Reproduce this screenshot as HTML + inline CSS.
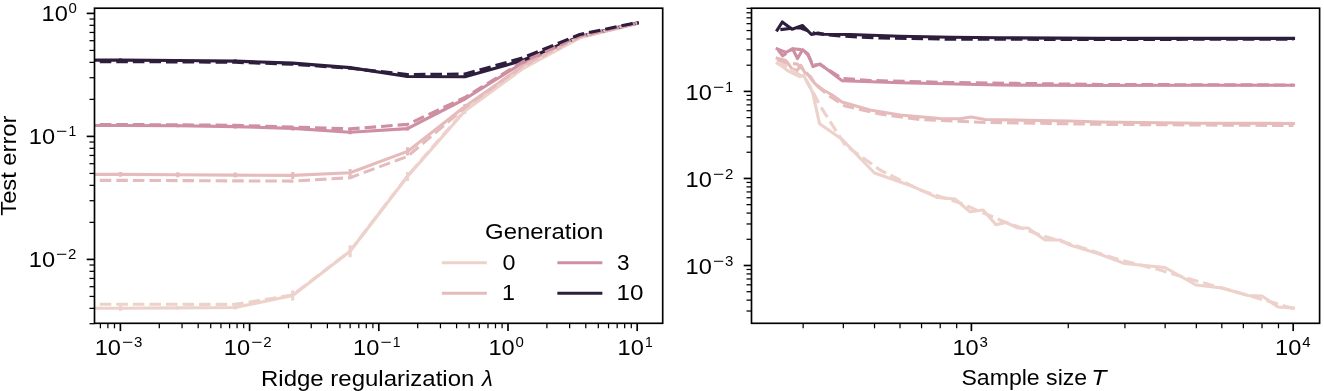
<!DOCTYPE html><html><head><meta charset="utf-8"><style>html,body{margin:0;padding:0;background:#fff;}svg{display:block;}</style></head><body><svg width="1324" height="391" viewBox="0 0 1324 391">
<defs>
<clipPath id="cl"><rect x="94.5" y="8.2" width="568.2" height="315.1"/></clipPath>
<clipPath id="cr"><rect x="751.5" y="8.2" width="568.0999999999999" height="315.1"/></clipPath>
</defs>
<rect width="1324" height="391" fill="#fff"/>
<path d="M89.5,308.3 L120.4,308.2 L177.8,307.9 L235.2,307.5 L292.7,295.5 L350.1,251.3 L407.5,176.5 L464.9,111.0 L522.4,69.0 L579.8,37.8 L637.2,23.5" fill="none" stroke="#edd1cb" stroke-width="3.125" stroke-linejoin="round" stroke-linecap="square" clip-path="url(#cl)"/>
<line x1="120.4" y1="305.7" x2="120.4" y2="310.7" stroke="#edd1cb" stroke-width="3.125" clip-path="url(#cl)"/>
<line x1="177.8" y1="306.4" x2="177.8" y2="309.4" stroke="#edd1cb" stroke-width="3.125" clip-path="url(#cl)"/>
<line x1="235.2" y1="305.5" x2="235.2" y2="309.5" stroke="#edd1cb" stroke-width="3.125" clip-path="url(#cl)"/>
<line x1="292.7" y1="290.5" x2="292.7" y2="300.5" stroke="#edd1cb" stroke-width="3.125" clip-path="url(#cl)"/>
<line x1="350.1" y1="245.3" x2="350.1" y2="257.3" stroke="#edd1cb" stroke-width="3.125" clip-path="url(#cl)"/>
<line x1="407.5" y1="172.0" x2="407.5" y2="181.0" stroke="#edd1cb" stroke-width="3.125" clip-path="url(#cl)"/>
<line x1="464.9" y1="108.0" x2="464.9" y2="114.0" stroke="#edd1cb" stroke-width="3.125" clip-path="url(#cl)"/>
<line x1="522.4" y1="68.0" x2="522.4" y2="70.0" stroke="#edd1cb" stroke-width="3.125" clip-path="url(#cl)"/>
<line x1="579.8" y1="36.8" x2="579.8" y2="38.8" stroke="#edd1cb" stroke-width="3.125" clip-path="url(#cl)"/>
<line x1="637.2" y1="22.5" x2="637.2" y2="24.5" stroke="#edd1cb" stroke-width="3.125" clip-path="url(#cl)"/>
<path d="M89.5,174.4 L120.4,174.4 L177.8,174.8 L235.2,175.1 L292.7,175.4 L350.1,172.8 L407.5,151.4 L464.9,106.5 L522.4,66.5 L579.8,37.3 L637.2,23.3" fill="none" stroke="#e5bcbb" stroke-width="3.125" stroke-linejoin="round" stroke-linecap="square" clip-path="url(#cl)"/>
<line x1="120.4" y1="172.1" x2="120.4" y2="176.7" stroke="#e5bcbb" stroke-width="3.125" clip-path="url(#cl)"/>
<line x1="177.8" y1="172.3" x2="177.8" y2="177.3" stroke="#e5bcbb" stroke-width="3.125" clip-path="url(#cl)"/>
<line x1="235.2" y1="172.6" x2="235.2" y2="177.6" stroke="#e5bcbb" stroke-width="3.125" clip-path="url(#cl)"/>
<line x1="292.7" y1="171.9" x2="292.7" y2="178.9" stroke="#e5bcbb" stroke-width="3.125" clip-path="url(#cl)"/>
<line x1="350.1" y1="169.0" x2="350.1" y2="176.6" stroke="#e5bcbb" stroke-width="3.125" clip-path="url(#cl)"/>
<line x1="407.5" y1="147.2" x2="407.5" y2="155.6" stroke="#e5bcbb" stroke-width="3.125" clip-path="url(#cl)"/>
<line x1="464.9" y1="104.0" x2="464.9" y2="109.0" stroke="#e5bcbb" stroke-width="3.125" clip-path="url(#cl)"/>
<line x1="522.4" y1="65.5" x2="522.4" y2="67.5" stroke="#e5bcbb" stroke-width="3.125" clip-path="url(#cl)"/>
<line x1="579.8" y1="36.3" x2="579.8" y2="38.3" stroke="#e5bcbb" stroke-width="3.125" clip-path="url(#cl)"/>
<line x1="637.2" y1="22.3" x2="637.2" y2="24.3" stroke="#e5bcbb" stroke-width="3.125" clip-path="url(#cl)"/>
<path d="M89.5,125.5 L120.4,125.5 L177.8,125.8 L235.2,126.6 L292.7,128.4 L350.1,132.2 L407.5,128.6 L464.9,99.0 L522.4,63.0 L579.8,36.3 L637.2,23.0" fill="none" stroke="#ce8fa2" stroke-width="3.125" stroke-linejoin="round" stroke-linecap="square" clip-path="url(#cl)"/>
<line x1="120.4" y1="124.0" x2="120.4" y2="127.0" stroke="#ce8fa2" stroke-width="3.125" clip-path="url(#cl)"/>
<line x1="177.8" y1="124.3" x2="177.8" y2="127.3" stroke="#ce8fa2" stroke-width="3.125" clip-path="url(#cl)"/>
<line x1="235.2" y1="124.6" x2="235.2" y2="128.6" stroke="#ce8fa2" stroke-width="3.125" clip-path="url(#cl)"/>
<line x1="292.7" y1="126.4" x2="292.7" y2="130.4" stroke="#ce8fa2" stroke-width="3.125" clip-path="url(#cl)"/>
<line x1="350.1" y1="130.2" x2="350.1" y2="134.2" stroke="#ce8fa2" stroke-width="3.125" clip-path="url(#cl)"/>
<line x1="407.5" y1="126.6" x2="407.5" y2="130.6" stroke="#ce8fa2" stroke-width="3.125" clip-path="url(#cl)"/>
<line x1="464.9" y1="98.0" x2="464.9" y2="100.0" stroke="#ce8fa2" stroke-width="3.125" clip-path="url(#cl)"/>
<line x1="522.4" y1="62.0" x2="522.4" y2="64.0" stroke="#ce8fa2" stroke-width="3.125" clip-path="url(#cl)"/>
<line x1="579.8" y1="35.3" x2="579.8" y2="37.3" stroke="#ce8fa2" stroke-width="3.125" clip-path="url(#cl)"/>
<line x1="637.2" y1="22.0" x2="637.2" y2="24.0" stroke="#ce8fa2" stroke-width="3.125" clip-path="url(#cl)"/>
<path d="M89.5,60.1 L120.4,60.1 L177.8,60.5 L235.2,61.1 L292.7,63.1 L350.1,67.6 L407.5,76.5 L464.9,76.8 L522.4,60.5 L579.8,36.5 L637.2,23.0" fill="none" stroke="#2d1e3e" stroke-width="3.125" stroke-linejoin="round" stroke-linecap="square" clip-path="url(#cl)"/>
<line x1="120.4" y1="58.6" x2="120.4" y2="61.6" stroke="#2d1e3e" stroke-width="3.125" clip-path="url(#cl)"/>
<line x1="177.8" y1="59.5" x2="177.8" y2="61.5" stroke="#2d1e3e" stroke-width="3.125" clip-path="url(#cl)"/>
<line x1="235.2" y1="59.6" x2="235.2" y2="62.6" stroke="#2d1e3e" stroke-width="3.125" clip-path="url(#cl)"/>
<line x1="292.7" y1="62.1" x2="292.7" y2="64.1" stroke="#2d1e3e" stroke-width="3.125" clip-path="url(#cl)"/>
<line x1="350.1" y1="66.6" x2="350.1" y2="68.6" stroke="#2d1e3e" stroke-width="3.125" clip-path="url(#cl)"/>
<line x1="407.5" y1="75.0" x2="407.5" y2="78.0" stroke="#2d1e3e" stroke-width="3.125" clip-path="url(#cl)"/>
<line x1="464.9" y1="75.8" x2="464.9" y2="77.8" stroke="#2d1e3e" stroke-width="3.125" clip-path="url(#cl)"/>
<line x1="522.4" y1="59.5" x2="522.4" y2="61.5" stroke="#2d1e3e" stroke-width="3.125" clip-path="url(#cl)"/>
<line x1="579.8" y1="35.5" x2="579.8" y2="37.5" stroke="#2d1e3e" stroke-width="3.125" clip-path="url(#cl)"/>
<line x1="637.2" y1="22.0" x2="637.2" y2="24.0" stroke="#2d1e3e" stroke-width="3.125" clip-path="url(#cl)"/>
<path d="M89.5,304.3 L120.4,304.3 L177.8,304.3 L235.2,304.4 L292.7,295.0 L350.1,251.0 L407.5,176.0 L464.9,110.0 L522.4,68.5 L579.8,37.3 L637.2,23.2" fill="none" stroke="#edd1cb" stroke-width="3.125" stroke-linejoin="round" stroke-linecap="butt" stroke-dasharray="11.56 5.0" stroke-dashoffset="6.32" clip-path="url(#cl)"/>
<path d="M89.5,180.4 L120.4,180.4 L177.8,180.6 L235.2,180.9 L292.7,181.1 L350.1,177.7 L407.5,156.4 L464.9,107.5 L522.4,66.0 L579.8,36.8 L637.2,23.0" fill="none" stroke="#e5bcbb" stroke-width="3.125" stroke-linejoin="round" stroke-linecap="butt" stroke-dasharray="11.56 5.0" stroke-dashoffset="6.32" clip-path="url(#cl)"/>
<path d="M89.5,124.6 L120.4,124.6 L177.8,124.8 L235.2,125.3 L292.7,127.1 L350.1,128.9 L407.5,124.4 L464.9,97.5 L522.4,62.0 L579.8,36.0 L637.2,22.8" fill="none" stroke="#ce8fa2" stroke-width="3.125" stroke-linejoin="round" stroke-linecap="butt" stroke-dasharray="11.56 5.0" stroke-dashoffset="6.32" clip-path="url(#cl)"/>
<path d="M89.5,61.6 L120.4,61.6 L177.8,61.9 L235.2,62.3 L292.7,64.2 L350.1,68.3 L407.5,74.5 L464.9,74.1 L522.4,58.0 L579.8,34.5 L637.2,22.5" fill="none" stroke="#2d1e3e" stroke-width="3.125" stroke-linejoin="round" stroke-linecap="butt" stroke-dasharray="11.56 5.0" stroke-dashoffset="6.32" clip-path="url(#cl)"/>
<path d="M777.2,63.3 L782.3,66.4 L787.4,70.5 L795.6,74.6 L799.7,76.6 L803.8,75.6 L807.9,83.8 L812.5,92.0 L819.6,123.8 L842.0,139.3 L874.5,173.0 L911.0,185.7 L937.0,197.4 L955.0,199.0 L970.0,211.8 L983.0,210.0 L996.0,224.6 L1006.0,222.5 L1018.0,228.0 L1028.0,228.0 L1045.0,240.0 L1060.0,240.0 L1070.0,245.0 L1100.0,254.3 L1124.6,263.5 L1165.0,267.5 L1196.0,285.0 L1222.0,288.0 L1248.0,295.5 L1262.0,296.0 L1278.0,307.0 L1293.5,308.0" fill="none" stroke="#edd1cb" stroke-width="3.125" stroke-linejoin="round" stroke-linecap="square" clip-path="url(#cr)"/>
<path d="M777.2,58.2 L785.4,60.2 L788.4,63.8 L792.0,68.9 L797.1,70.5 L800.7,65.4 L804.8,72.5 L810.4,76.6 L815.0,83.8 L823.2,90.0 L831.4,94.5 L842.0,102.0 L870.0,110.0 L900.0,115.0 L940.0,118.5 L960.0,118.8 L971.0,117.0 L985.0,119.5 L1040.0,120.5 L1070.0,121.0 L1100.0,122.0 L1200.0,123.2 L1293.5,123.5" fill="none" stroke="#e5bcbb" stroke-width="3.125" stroke-linejoin="round" stroke-linecap="square" clip-path="url(#cr)"/>
<path d="M777.2,48.9 L786.0,52.4 L792.6,48.8 L797.5,58.5 L802.6,49.7 L808.0,54.0 L813.0,66.6 L820.0,63.9 L842.2,80.7 L900.0,82.7 L1000.0,85.0 L1100.0,85.5 L1200.0,85.3 L1293.5,85.3" fill="none" stroke="#ce8fa2" stroke-width="3.125" stroke-linejoin="round" stroke-linecap="square" clip-path="url(#cr)"/>
<path d="M777.2,30.0 L782.3,22.0 L792.0,29.2 L802.6,25.6 L811.5,34.5 L818.0,33.0 L824.0,34.2 L850.0,34.5 L900.0,36.3 L952.0,37.2 L1000.0,37.8 L1100.0,38.4 L1200.0,38.4 L1293.5,38.4" fill="none" stroke="#2d1e3e" stroke-width="3.125" stroke-linejoin="round" stroke-linecap="square" clip-path="url(#cr)"/>
<path d="M777.7,60.0 L786.0,66.0 L795.0,72.0 L805.0,78.0 L812.0,90.0 L819.6,105.0 L845.0,145.0 L880.0,170.0 L920.0,190.0 L960.0,203.0 L1000.0,220.0 L1040.0,235.0 L1080.0,247.0 L1120.0,260.0 L1160.0,270.0 L1200.0,282.0 L1240.0,293.0 L1293.5,308.5" fill="none" stroke="#edd1cb" stroke-width="3.125" stroke-linejoin="round" stroke-linecap="butt" stroke-dasharray="11.56 5.0" stroke-dashoffset="0" clip-path="url(#cr)"/>
<path d="M777.2,59.0 L787.0,63.0 L797.0,64.0 L806.0,72.0 L815.0,84.0 L828.0,95.0 L845.0,106.0 L880.0,114.0 L920.0,119.5 L980.0,122.3 L1100.0,124.3 L1200.0,125.0 L1293.5,125.5" fill="none" stroke="#e5bcbb" stroke-width="3.125" stroke-linejoin="round" stroke-linecap="butt" stroke-dasharray="11.56 5.0" stroke-dashoffset="0" clip-path="url(#cr)"/>
<path d="M777.2,48.9 L782.7,55.8 L792.6,48.8 L802.6,49.7 L808.0,55.0 L813.0,65.0 L820.0,64.5 L842.0,78.5 L870.0,80.5 L950.0,82.5 L1100.0,84.5 L1293.5,85.0" fill="none" stroke="#ce8fa2" stroke-width="3.125" stroke-linejoin="round" stroke-linecap="butt" stroke-dasharray="11.56 5.0" stroke-dashoffset="15.06" clip-path="url(#cr)"/>
<path d="M777.2,30.0 L790.0,28.5 L800.0,27.8 L806.0,30.0 L815.0,33.5 L840.0,36.0 L880.0,38.0 L952.0,39.2 L1100.0,39.4 L1293.5,39.2" fill="none" stroke="#2d1e3e" stroke-width="3.125" stroke-linejoin="round" stroke-linecap="butt" stroke-dasharray="11.56 5.0" stroke-dashoffset="13.36" clip-path="url(#cr)"/>
<rect x="94.5" y="8.2" width="568.2" height="315.1" fill="none" stroke="#000" stroke-width="1.67" stroke-linejoin="miter"/>
<rect x="751.5" y="8.2" width="568.0999999999999" height="315.1" fill="none" stroke="#000" stroke-width="1.67" stroke-linejoin="miter"/>
<line x1="100.39" y1="323.3" x2="100.39" y2="328.3" stroke="#000" stroke-width="1.25"/>
<line x1="107.88" y1="323.3" x2="107.88" y2="328.3" stroke="#000" stroke-width="1.25"/>
<line x1="114.49" y1="323.3" x2="114.49" y2="328.3" stroke="#000" stroke-width="1.25"/>
<line x1="120.40" y1="323.3" x2="120.40" y2="331.1" stroke="#000" stroke-width="1.67"/>
<line x1="159.29" y1="323.3" x2="159.29" y2="328.3" stroke="#000" stroke-width="1.25"/>
<line x1="182.04" y1="323.3" x2="182.04" y2="328.3" stroke="#000" stroke-width="1.25"/>
<line x1="198.19" y1="323.3" x2="198.19" y2="328.3" stroke="#000" stroke-width="1.25"/>
<line x1="210.71" y1="323.3" x2="210.71" y2="328.3" stroke="#000" stroke-width="1.25"/>
<line x1="220.94" y1="323.3" x2="220.94" y2="328.3" stroke="#000" stroke-width="1.25"/>
<line x1="229.59" y1="323.3" x2="229.59" y2="328.3" stroke="#000" stroke-width="1.25"/>
<line x1="237.08" y1="323.3" x2="237.08" y2="328.3" stroke="#000" stroke-width="1.25"/>
<line x1="243.69" y1="323.3" x2="243.69" y2="328.3" stroke="#000" stroke-width="1.25"/>
<line x1="249.60" y1="323.3" x2="249.60" y2="331.1" stroke="#000" stroke-width="1.67"/>
<line x1="288.49" y1="323.3" x2="288.49" y2="328.3" stroke="#000" stroke-width="1.25"/>
<line x1="311.24" y1="323.3" x2="311.24" y2="328.3" stroke="#000" stroke-width="1.25"/>
<line x1="327.39" y1="323.3" x2="327.39" y2="328.3" stroke="#000" stroke-width="1.25"/>
<line x1="339.91" y1="323.3" x2="339.91" y2="328.3" stroke="#000" stroke-width="1.25"/>
<line x1="350.14" y1="323.3" x2="350.14" y2="328.3" stroke="#000" stroke-width="1.25"/>
<line x1="358.79" y1="323.3" x2="358.79" y2="328.3" stroke="#000" stroke-width="1.25"/>
<line x1="366.28" y1="323.3" x2="366.28" y2="328.3" stroke="#000" stroke-width="1.25"/>
<line x1="372.89" y1="323.3" x2="372.89" y2="328.3" stroke="#000" stroke-width="1.25"/>
<line x1="378.80" y1="323.3" x2="378.80" y2="331.1" stroke="#000" stroke-width="1.67"/>
<line x1="417.69" y1="323.3" x2="417.69" y2="328.3" stroke="#000" stroke-width="1.25"/>
<line x1="440.44" y1="323.3" x2="440.44" y2="328.3" stroke="#000" stroke-width="1.25"/>
<line x1="456.59" y1="323.3" x2="456.59" y2="328.3" stroke="#000" stroke-width="1.25"/>
<line x1="469.11" y1="323.3" x2="469.11" y2="328.3" stroke="#000" stroke-width="1.25"/>
<line x1="479.34" y1="323.3" x2="479.34" y2="328.3" stroke="#000" stroke-width="1.25"/>
<line x1="487.99" y1="323.3" x2="487.99" y2="328.3" stroke="#000" stroke-width="1.25"/>
<line x1="495.48" y1="323.3" x2="495.48" y2="328.3" stroke="#000" stroke-width="1.25"/>
<line x1="502.09" y1="323.3" x2="502.09" y2="328.3" stroke="#000" stroke-width="1.25"/>
<line x1="508.00" y1="323.3" x2="508.00" y2="331.1" stroke="#000" stroke-width="1.67"/>
<line x1="546.89" y1="323.3" x2="546.89" y2="328.3" stroke="#000" stroke-width="1.25"/>
<line x1="569.64" y1="323.3" x2="569.64" y2="328.3" stroke="#000" stroke-width="1.25"/>
<line x1="585.79" y1="323.3" x2="585.79" y2="328.3" stroke="#000" stroke-width="1.25"/>
<line x1="598.31" y1="323.3" x2="598.31" y2="328.3" stroke="#000" stroke-width="1.25"/>
<line x1="608.54" y1="323.3" x2="608.54" y2="328.3" stroke="#000" stroke-width="1.25"/>
<line x1="617.19" y1="323.3" x2="617.19" y2="328.3" stroke="#000" stroke-width="1.25"/>
<line x1="624.68" y1="323.3" x2="624.68" y2="328.3" stroke="#000" stroke-width="1.25"/>
<line x1="631.29" y1="323.3" x2="631.29" y2="328.3" stroke="#000" stroke-width="1.25"/>
<line x1="637.20" y1="323.3" x2="637.20" y2="331.1" stroke="#000" stroke-width="1.67"/>
<line x1="89.5" y1="323.71" x2="94.5" y2="323.71" stroke="#000" stroke-width="1.25"/>
<line x1="89.5" y1="308.35" x2="94.5" y2="308.35" stroke="#000" stroke-width="1.25"/>
<line x1="89.5" y1="296.43" x2="94.5" y2="296.43" stroke="#000" stroke-width="1.25"/>
<line x1="89.5" y1="286.69" x2="94.5" y2="286.69" stroke="#000" stroke-width="1.25"/>
<line x1="89.5" y1="278.45" x2="94.5" y2="278.45" stroke="#000" stroke-width="1.25"/>
<line x1="89.5" y1="271.32" x2="94.5" y2="271.32" stroke="#000" stroke-width="1.25"/>
<line x1="89.5" y1="265.03" x2="94.5" y2="265.03" stroke="#000" stroke-width="1.25"/>
<line x1="86.7" y1="259.40" x2="94.5" y2="259.40" stroke="#000" stroke-width="1.67"/>
<line x1="89.5" y1="222.37" x2="94.5" y2="222.37" stroke="#000" stroke-width="1.25"/>
<line x1="89.5" y1="200.71" x2="94.5" y2="200.71" stroke="#000" stroke-width="1.25"/>
<line x1="89.5" y1="185.35" x2="94.5" y2="185.35" stroke="#000" stroke-width="1.25"/>
<line x1="89.5" y1="173.43" x2="94.5" y2="173.43" stroke="#000" stroke-width="1.25"/>
<line x1="89.5" y1="163.69" x2="94.5" y2="163.69" stroke="#000" stroke-width="1.25"/>
<line x1="89.5" y1="155.45" x2="94.5" y2="155.45" stroke="#000" stroke-width="1.25"/>
<line x1="89.5" y1="148.32" x2="94.5" y2="148.32" stroke="#000" stroke-width="1.25"/>
<line x1="89.5" y1="142.03" x2="94.5" y2="142.03" stroke="#000" stroke-width="1.25"/>
<line x1="86.7" y1="136.40" x2="94.5" y2="136.40" stroke="#000" stroke-width="1.67"/>
<line x1="89.5" y1="99.37" x2="94.5" y2="99.37" stroke="#000" stroke-width="1.25"/>
<line x1="89.5" y1="77.71" x2="94.5" y2="77.71" stroke="#000" stroke-width="1.25"/>
<line x1="89.5" y1="62.35" x2="94.5" y2="62.35" stroke="#000" stroke-width="1.25"/>
<line x1="89.5" y1="50.43" x2="94.5" y2="50.43" stroke="#000" stroke-width="1.25"/>
<line x1="89.5" y1="40.69" x2="94.5" y2="40.69" stroke="#000" stroke-width="1.25"/>
<line x1="89.5" y1="32.45" x2="94.5" y2="32.45" stroke="#000" stroke-width="1.25"/>
<line x1="89.5" y1="25.32" x2="94.5" y2="25.32" stroke="#000" stroke-width="1.25"/>
<line x1="89.5" y1="19.03" x2="94.5" y2="19.03" stroke="#000" stroke-width="1.25"/>
<line x1="86.7" y1="13.40" x2="94.5" y2="13.40" stroke="#000" stroke-width="1.67"/>
<line x1="803.14" y1="323.3" x2="803.14" y2="328.3" stroke="#000" stroke-width="1.25"/>
<line x1="843.34" y1="323.3" x2="843.34" y2="328.3" stroke="#000" stroke-width="1.25"/>
<line x1="874.53" y1="323.3" x2="874.53" y2="328.3" stroke="#000" stroke-width="1.25"/>
<line x1="900.01" y1="323.3" x2="900.01" y2="328.3" stroke="#000" stroke-width="1.25"/>
<line x1="921.55" y1="323.3" x2="921.55" y2="328.3" stroke="#000" stroke-width="1.25"/>
<line x1="940.21" y1="323.3" x2="940.21" y2="328.3" stroke="#000" stroke-width="1.25"/>
<line x1="956.68" y1="323.3" x2="956.68" y2="328.3" stroke="#000" stroke-width="1.25"/>
<line x1="971.40" y1="323.3" x2="971.40" y2="331.1" stroke="#000" stroke-width="1.67"/>
<line x1="1068.27" y1="323.3" x2="1068.27" y2="328.3" stroke="#000" stroke-width="1.25"/>
<line x1="1124.94" y1="323.3" x2="1124.94" y2="328.3" stroke="#000" stroke-width="1.25"/>
<line x1="1165.14" y1="323.3" x2="1165.14" y2="328.3" stroke="#000" stroke-width="1.25"/>
<line x1="1196.33" y1="323.3" x2="1196.33" y2="328.3" stroke="#000" stroke-width="1.25"/>
<line x1="1221.81" y1="323.3" x2="1221.81" y2="328.3" stroke="#000" stroke-width="1.25"/>
<line x1="1243.35" y1="323.3" x2="1243.35" y2="328.3" stroke="#000" stroke-width="1.25"/>
<line x1="1262.01" y1="323.3" x2="1262.01" y2="328.3" stroke="#000" stroke-width="1.25"/>
<line x1="1278.48" y1="323.3" x2="1278.48" y2="328.3" stroke="#000" stroke-width="1.25"/>
<line x1="1293.20" y1="323.3" x2="1293.20" y2="331.1" stroke="#000" stroke-width="1.67"/>
<line x1="746.5" y1="311.02" x2="751.5" y2="311.02" stroke="#000" stroke-width="1.25"/>
<line x1="746.5" y1="300.14" x2="751.5" y2="300.14" stroke="#000" stroke-width="1.25"/>
<line x1="746.5" y1="291.70" x2="751.5" y2="291.70" stroke="#000" stroke-width="1.25"/>
<line x1="746.5" y1="284.81" x2="751.5" y2="284.81" stroke="#000" stroke-width="1.25"/>
<line x1="746.5" y1="278.98" x2="751.5" y2="278.98" stroke="#000" stroke-width="1.25"/>
<line x1="746.5" y1="273.94" x2="751.5" y2="273.94" stroke="#000" stroke-width="1.25"/>
<line x1="746.5" y1="269.48" x2="751.5" y2="269.48" stroke="#000" stroke-width="1.25"/>
<line x1="743.7" y1="265.50" x2="751.5" y2="265.50" stroke="#000" stroke-width="1.67"/>
<line x1="746.5" y1="239.30" x2="751.5" y2="239.30" stroke="#000" stroke-width="1.25"/>
<line x1="746.5" y1="223.97" x2="751.5" y2="223.97" stroke="#000" stroke-width="1.25"/>
<line x1="746.5" y1="213.09" x2="751.5" y2="213.09" stroke="#000" stroke-width="1.25"/>
<line x1="746.5" y1="204.65" x2="751.5" y2="204.65" stroke="#000" stroke-width="1.25"/>
<line x1="746.5" y1="197.76" x2="751.5" y2="197.76" stroke="#000" stroke-width="1.25"/>
<line x1="746.5" y1="191.93" x2="751.5" y2="191.93" stroke="#000" stroke-width="1.25"/>
<line x1="746.5" y1="186.89" x2="751.5" y2="186.89" stroke="#000" stroke-width="1.25"/>
<line x1="746.5" y1="182.43" x2="751.5" y2="182.43" stroke="#000" stroke-width="1.25"/>
<line x1="743.7" y1="178.45" x2="751.5" y2="178.45" stroke="#000" stroke-width="1.67"/>
<line x1="746.5" y1="152.25" x2="751.5" y2="152.25" stroke="#000" stroke-width="1.25"/>
<line x1="746.5" y1="136.92" x2="751.5" y2="136.92" stroke="#000" stroke-width="1.25"/>
<line x1="746.5" y1="126.04" x2="751.5" y2="126.04" stroke="#000" stroke-width="1.25"/>
<line x1="746.5" y1="117.60" x2="751.5" y2="117.60" stroke="#000" stroke-width="1.25"/>
<line x1="746.5" y1="110.71" x2="751.5" y2="110.71" stroke="#000" stroke-width="1.25"/>
<line x1="746.5" y1="104.88" x2="751.5" y2="104.88" stroke="#000" stroke-width="1.25"/>
<line x1="746.5" y1="99.84" x2="751.5" y2="99.84" stroke="#000" stroke-width="1.25"/>
<line x1="746.5" y1="95.38" x2="751.5" y2="95.38" stroke="#000" stroke-width="1.25"/>
<line x1="743.7" y1="91.40" x2="751.5" y2="91.40" stroke="#000" stroke-width="1.67"/>
<line x1="746.5" y1="65.20" x2="751.5" y2="65.20" stroke="#000" stroke-width="1.25"/>
<line x1="746.5" y1="49.87" x2="751.5" y2="49.87" stroke="#000" stroke-width="1.25"/>
<line x1="746.5" y1="38.99" x2="751.5" y2="38.99" stroke="#000" stroke-width="1.25"/>
<line x1="746.5" y1="30.55" x2="751.5" y2="30.55" stroke="#000" stroke-width="1.25"/>
<line x1="746.5" y1="23.66" x2="751.5" y2="23.66" stroke="#000" stroke-width="1.25"/>
<line x1="746.5" y1="17.83" x2="751.5" y2="17.83" stroke="#000" stroke-width="1.25"/>
<line x1="746.5" y1="12.79" x2="751.5" y2="12.79" stroke="#000" stroke-width="1.25"/>
<line x1="746.5" y1="8.33" x2="751.5" y2="8.33" stroke="#000" stroke-width="1.25"/>
<g font-family="'Liberation Sans', sans-serif" fill="#000" style="will-change:transform">
<text transform="translate(41.57,21.00) scale(1.114,1)" font-size="21.2">10</text>
<text transform="translate(68.59,12.80) scale(1.014,1)" font-size="14.8">0</text>
<text transform="translate(28.77,144.00) scale(1.114,1)" font-size="21.2">10</text>
<text transform="translate(56.10,135.80) scale(1.300,1)" font-size="14.8">−</text>
<text transform="translate(68.56,135.80) scale(0.943,1)" font-size="14.8">1</text>
<text transform="translate(28.77,267.00) scale(1.114,1)" font-size="21.2">10</text>
<text transform="translate(56.10,258.80) scale(1.300,1)" font-size="14.8">−</text>
<text transform="translate(68.09,258.80) scale(1.014,1)" font-size="14.8">2</text>
<text transform="translate(685.57,99.70) scale(1.114,1)" font-size="21.2">10</text>
<text transform="translate(712.90,91.50) scale(1.300,1)" font-size="14.8">−</text>
<text transform="translate(725.36,91.50) scale(0.943,1)" font-size="14.8">1</text>
<text transform="translate(685.57,186.75) scale(1.114,1)" font-size="21.2">10</text>
<text transform="translate(712.90,178.55) scale(1.300,1)" font-size="14.8">−</text>
<text transform="translate(724.89,178.55) scale(1.014,1)" font-size="14.8">2</text>
<text transform="translate(685.57,273.80) scale(1.114,1)" font-size="21.2">10</text>
<text transform="translate(712.90,265.60) scale(1.300,1)" font-size="14.8">−</text>
<text transform="translate(724.89,265.60) scale(1.014,1)" font-size="14.8">3</text>
<text transform="translate(94.67,354.90) scale(1.114,1)" font-size="21.2">10</text>
<text transform="translate(122.00,346.70) scale(1.300,1)" font-size="14.8">−</text>
<text transform="translate(133.99,346.70) scale(1.014,1)" font-size="14.8">3</text>
<text transform="translate(223.87,354.90) scale(1.114,1)" font-size="21.2">10</text>
<text transform="translate(251.20,346.70) scale(1.300,1)" font-size="14.8">−</text>
<text transform="translate(263.19,346.70) scale(1.014,1)" font-size="14.8">2</text>
<text transform="translate(353.07,354.90) scale(1.114,1)" font-size="21.2">10</text>
<text transform="translate(380.40,346.70) scale(1.300,1)" font-size="14.8">−</text>
<text transform="translate(392.86,346.70) scale(0.943,1)" font-size="14.8">1</text>
<text transform="translate(488.42,354.90) scale(1.114,1)" font-size="21.2">10</text>
<text transform="translate(515.44,346.70) scale(1.014,1)" font-size="14.8">0</text>
<text transform="translate(617.62,354.90) scale(1.114,1)" font-size="21.2">10</text>
<text transform="translate(645.11,346.70) scale(0.943,1)" font-size="14.8">1</text>
<text transform="translate(952.42,354.90) scale(1.114,1)" font-size="21.2">10</text>
<text transform="translate(979.44,346.70) scale(1.014,1)" font-size="14.8">3</text>
<text transform="translate(1275.12,354.90) scale(1.114,1)" font-size="21.2">10</text>
<text transform="translate(1302.14,346.70) scale(1.014,1)" font-size="14.8">4</text>
<text transform="translate(261.04,385.80) scale(1.132,1)" font-size="21.2">Ridge regularization</text>
<text transform="translate(482.04,385.80) scale(1.040,1)" font-size="21.2" font-style="italic">λ</text>
<text transform="translate(961.41,385.40) scale(1.090,1)" font-size="21.2">Sample size</text>
<text transform="translate(1091.15,385.40) scale(1.175,1)" font-size="21.2" font-style="italic">T</text>
<text transform="translate(15.7,215.70) rotate(-90) scale(1.119,1)" font-size="21.2">Test error</text>
<text transform="translate(485.07,238.60) scale(1.129,1)" font-size="21.2">Generation</text>
<line x1="443.4" y1="262.7" x2="485.29999999999995" y2="262.7" stroke="#edd1cb" stroke-width="3.125" stroke-linecap="square"/>
<text transform="translate(502.60,270.30) scale(1.100,1)" font-size="21.2">0</text>
<line x1="443.4" y1="293.3" x2="485.29999999999995" y2="293.3" stroke="#e5bcbb" stroke-width="3.125" stroke-linecap="square"/>
<text transform="translate(501.90,300.30) scale(1.100,1)" font-size="21.2">1</text>
<line x1="558.9" y1="262.7" x2="600.8" y2="262.7" stroke="#ce8fa2" stroke-width="3.125" stroke-linecap="square"/>
<text transform="translate(617.04,270.30) scale(1.060,1)" font-size="21.2">3</text>
<line x1="558.9" y1="293.3" x2="600.8" y2="293.3" stroke="#2d1e3e" stroke-width="3.125" stroke-linecap="square"/>
<text transform="translate(616.51,300.30) scale(1.143,1)" font-size="21.2">10</text>
</g>
</svg></body></html>
